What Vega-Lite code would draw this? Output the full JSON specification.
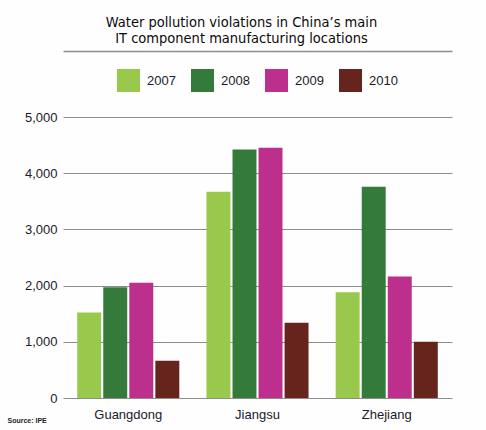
{
  "$schema": "https://vega.github.io/schema/vega-lite/v6.json",
  "width": 389,
  "height": 281,
  "autosize": {"type": "none"},
  "padding": {"left": 63, "top": 117, "right": 34, "bottom": 32},
  "background": "#fefefe",
  "title": {
    "text": ["Water pollution violations in China’s main", "IT component manufacturing locations"],
    "font": "DejaVu Sans Condensed, Lato",
    "fontSize": 14.5,
    "fontWeight": 500,
    "color": "#0a0a0a",
    "lineHeight": 15.5,
    "anchor": "middle",
    "dx": -16,
    "offset": 5
  },
  "data": {
    "values": [
      {"province": "Guangdong", "year": "2007", "violations": 1520},
      {"province": "Guangdong", "year": "2008", "violations": 1970},
      {"province": "Guangdong", "year": "2009", "violations": 2050},
      {"province": "Guangdong", "year": "2010", "violations": 665},
      {"province": "Jiangsu", "year": "2007", "violations": 3670},
      {"province": "Jiangsu", "year": "2008", "violations": 4420},
      {"province": "Jiangsu", "year": "2009", "violations": 4455},
      {"province": "Jiangsu", "year": "2010", "violations": 1340},
      {"province": "Zhejiang", "year": "2007", "violations": 1880},
      {"province": "Zhejiang", "year": "2008", "violations": 3760},
      {"province": "Zhejiang", "year": "2009", "violations": 2160},
      {"province": "Zhejiang", "year": "2010", "violations": 1000}
    ]
  },
  "encoding": {
    "x": {
      "field": "province",
      "type": "nominal",
      "scale": {"paddingInner": 0.21, "paddingOuter": 0.11},
      "axis": {
        "title": "Source: IPE",
        "titleFont": "Liberation Sans",
        "titleFontSize": 7,
        "titleFontWeight": "bold",
        "titleColor": "#222222",
        "titleAnchor": "start",
        "titleAlign": "left",
        "titleBaseline": "alphabetic",
        "titleX": -56,
        "titleY": 24,
        "labelAngle": 0,
        "labelFont": "Liberation Sans",
        "labelFontSize": 13,
        "labelColor": "#1a1a2a",
        "labelPadding": 10,
        "domain": false,
        "ticks": false
      }
    },
    "xOffset": {
      "field": "year",
      "type": "nominal",
      "scale": {"paddingInner": 0.08}
    },
    "y": {
      "field": "violations",
      "type": "quantitative",
      "scale": {"domain": [0, 5000], "nice": false},
      "axis": {
        "title": null,
        "values": [0, 1000, 2000, 3000, 4000, 5000],
        "format": ",d",
        "labelFont": "Liberation Sans",
        "labelFontSize": 13,
        "labelColor": "#1a1a2a",
        "labelPadding": 6,
        "domain": false,
        "ticks": false,
        "grid": true,
        "gridColor": "#8c8c8c",
        "gridWidth": 1
      }
    },
    "color": {
      "field": "year",
      "type": "nominal",
      "scale": {
        "domain": ["2007", "2008", "2009", "2010"],
        "range": ["#99c94c", "#337a3b", "#bc2f8c", "#67241c"]
      },
      "legend": {
        "title": null,
        "orient": "none",
        "legendX": 54,
        "legendY": -48,
        "direction": "horizontal",
        "symbolType": "square",
        "symbolSize": 529,
        "symbolStrokeWidth": 0,
        "symbolOpacity": 1,
        "labelFont": "Liberation Sans",
        "labelFontSize": 13,
        "labelColor": "#1a1a2a",
        "labelOffset": 7,
        "columnPadding": 15
      }
    }
  },
  "layer": [
    {"mark": {"type": "bar"}},
    {
      "mark": {"type": "bar", "opacity": 0},
      "encoding": {
        "x": {
          "field": "province",
          "type": "nominal",
          "axis": {
            "orient": "top",
            "title": null,
            "labels": false,
            "ticks": false,
            "domain": true,
            "domainColor": "#8c8c8c",
            "domainWidth": 1.5,
            "offset": 66
          }
        }
      }
    }
  ],
  "resolve": {"axis": {"x": "independent"}},
  "config": {
    "view": {"stroke": null}
  }
}
